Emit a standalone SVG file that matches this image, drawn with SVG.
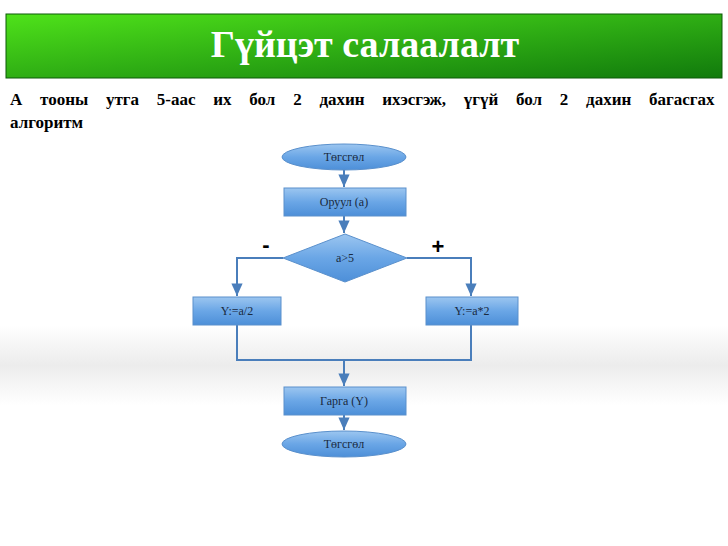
<svg xmlns="http://www.w3.org/2000/svg" width="728" height="546" viewBox="0 0 728 546">
<defs>
<linearGradient id="hdr" x1="0" y1="0" x2="1" y2="1"><stop offset="0" stop-color="#4fe21a"/><stop offset="0.5" stop-color="#2fae14"/><stop offset="1" stop-color="#117a0c"/></linearGradient>
<linearGradient id="band" x1="0" y1="0" x2="0" y2="1"><stop offset="0" stop-color="#ffffff"/><stop offset="0.5" stop-color="#ececec"/><stop offset="1" stop-color="#ffffff"/></linearGradient>
<linearGradient id="nd" x1="0" y1="0" x2="0" y2="1"><stop offset="0" stop-color="#9cc6f0"/><stop offset="0.5" stop-color="#6aa6e6"/><stop offset="1" stop-color="#4d8fd8"/></linearGradient>
<marker id="ah" viewBox="0 0 10 10" refX="9" refY="5" markerWidth="7" markerHeight="7" orient="auto"><path d="M0,1 L9,5 L0,9 Z" fill="#4a7ebb"/></marker>
<style>
.n{fill:url(#nd);stroke:#5a90cc;stroke-width:1}
.t{font-family:"Liberation Serif",serif;font-size:12px;fill:#1a2a40;text-anchor:middle}
.c{fill:none;stroke:#4a7ebb;stroke-width:2}
.b{font-family:"Liberation Serif",serif;font-size:17px;font-weight:bold;fill:#000}
</style>
</defs>
<rect width="728" height="546" fill="#fff"/>
<rect x="0" y="325" width="728" height="80" fill="url(#band)"/>
<g id="header">
<rect x="6" y="14" width="716" height="64" fill="url(#hdr)" stroke="#0d5a09"/>
<text x="365" y="57" text-anchor="middle" font-family="Liberation Serif,serif" font-size="38" font-weight="bold" fill="#fff">Гүйцэт салаалалт</text>
</g>
<g id="desc">
<text class="b" x="10" y="105" word-spacing="13.5">А тооны утга 5-аас их бол 2 дахин ихэсгэж, үгүй бол 2 дахин багасгах</text>
<text class="b" x="10" y="128">алгоритм</text>
</g>
<g id="connectors">
<line class="c" x1="344" y1="170" x2="344" y2="187" marker-end="url(#ah)"/>
<line class="c" x1="344" y1="216" x2="344" y2="233" marker-end="url(#ah)"/>
<polyline class="c" points="283,258 237,258 237,296" marker-end="url(#ah)"/>
<polyline class="c" points="407,258 471,258 471,296" marker-end="url(#ah)"/>
<polyline class="c" points="237,325 237,360 471,360 471,325"/>
<line class="c" x1="344" y1="360" x2="344" y2="386" marker-end="url(#ah)"/>
<line class="c" x1="344" y1="415" x2="344" y2="430" marker-end="url(#ah)"/>
<text x="266" y="252" font-family="Liberation Sans,sans-serif" font-size="22" font-weight="bold" text-anchor="middle">-</text>
<text x="438" y="254" font-family="Liberation Sans,sans-serif" font-size="22" font-weight="bold" text-anchor="middle">+</text>
</g>
<g id="start"><ellipse class="n" cx="344" cy="157" rx="62" ry="13"/><text class="t" x="344" y="161">Төгсгөл</text></g>
<g id="input"><rect class="n" x="284" y="188" width="122" height="28"/><text class="t" x="344" y="206">Оруул (a)</text></g>
<g id="cond"><polygon class="n" points="345,234 407,258 345,282 283,258"/><text class="t" x="345" y="262">a&gt;5</text></g>
<g id="left"><rect class="n" x="193" y="297" width="88" height="28"/><text class="t" x="237" y="315">Y:=a/2</text></g>
<g id="right"><rect class="n" x="426" y="297" width="92" height="28"/><text class="t" x="472" y="315">Y:=a*2</text></g>
<g id="output"><rect class="n" x="284" y="387" width="122" height="28"/><text class="t" x="344" y="405">Гарга (Y)</text></g>
<g id="end"><ellipse class="n" cx="344" cy="444" rx="62" ry="13"/><text class="t" x="344" y="448">Төгсгөл</text></g>
</svg>
